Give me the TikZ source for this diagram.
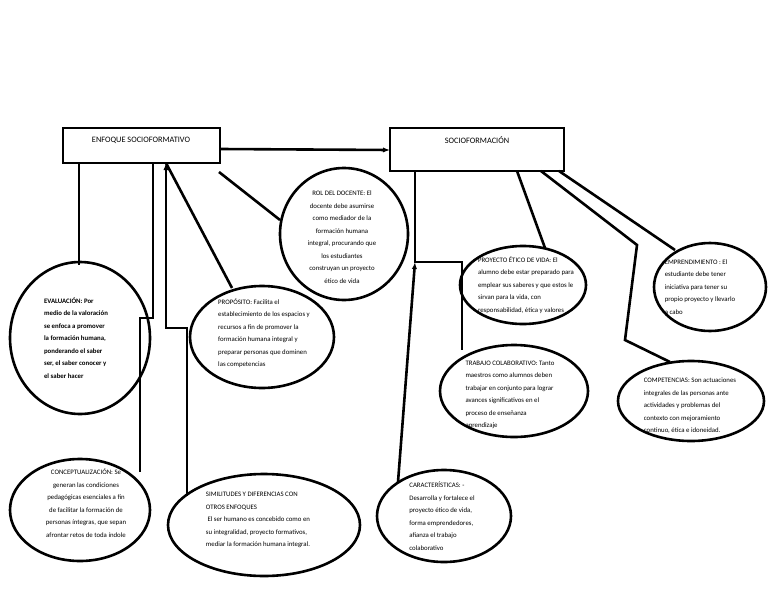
\documentclass[tikz,border=0pt]{standalone}
\usepackage{fontspec}
\setmainfont{Carlito}
\usetikzlibrary{shapes.geometric,arrows.meta}
\begin{document}
\begin{tikzpicture}[x=1pt,y=-1pt,
  ln/.style={line width=2.6pt},
  ell/.style={draw,ellipse,line width=2.6pt},
  txt/.style={font=\fontsize{6.8}{12.5}\selectfont,align=#1},
  txt/.default=center,
  box/.style={draw,line width=1.8pt}]
\useasboundingbox (0,0) rectangle (768,594);
% boxes
\draw[box] (63,128) rectangle (220,163);
\node[font=\fontsize{8.3}{9}\selectfont] (t1) at (141,140) {ENFOQUE SOCIOFORMATIVO};
\draw[box] (390,128) rectangle (564,171);
\node[font=\fontsize{8.3}{9}\selectfont] (t2) at (477,140) {SOCIOFORMACIÓN};
\coordinate (b1r) at (220,149); \coordinate (b2l) at (390,150);
\draw[ln,-{Latex[length=7pt]}] (b1r) -- (b2l);
% ellipses
\node[ell,minimum width=140pt,minimum height=152pt] (ev) at (80,338) {};
\node[txt=left,font=\bfseries\fontsize{6.8}{12.5}\selectfont] at (76,338) {EVALUACIÓN: Por\\medio de la valoración\\se enfoca a promover\\la formación humana,\\ponderando el saber\\ser, el saber conocer y\\el saber hacer};
\node[ell,minimum width=140pt,minimum height=102pt] (co) at (80,510) {};
\node[txt] at (86,503) {CONCEPTUALIZACIÓN: Se\\generan las condiciones\\pedagógicas esenciales a fin\\de facilitar la formación de\\personas íntegras, que sepan\\afrontar retos de toda índole};
\node[ell,minimum width=192pt,minimum height=102pt] (si) at (264,525) {};
\node[txt=left] at (258,520) {SIMILITUDES Y DIFERENCIAS CON\\OTROS ENFOQUES\\\ El ser humano es concebido como en\\su integralidad, proyecto formativos,\\mediar la formación humana integral.};
\node[ell,minimum width=144pt,minimum height=102pt] (pr) at (262,337) {};
\node[txt=left] at (264,333) {PROPÓSITO: Facilita el\\establecimiento de los espacios y\\recursos a fin de promover la\\formación humana integral y\\preparar personas que dominen\\las competencias};
\node[ell,minimum width=128pt,minimum height=132pt] (ro) at (344,234) {};
\node[txt] at (342,237) {ROL DEL DOCENTE: El\\docente debe asumirse\\como mediador de la\\formación humana\\integral, procurando que\\los estudiantes\\construyan un proyecto\\ético de vida};
\node[ell,minimum width=126pt,minimum height=78pt] (py) at (523,285) {};
\node[txt=left] at (526,285) {PROYECTO ÉTICO DE VIDA: El\\alumno debe estar preparado para\\emplear sus saberes y que estos le\\sirvan para la vida, con\\responsabilidad, ética y valores};
\node[ell,minimum width=112pt,minimum height=88pt] (em) at (710,287) {};
\node[txt=left] at (700,287) {EMPRENDIMIENTO : El\\estudiante debe tener\\iniciativa para tener su\\propio proyecto y llevarlo\\a cabo};
\node[ell,minimum width=146pt,minimum height=80pt] (cp) at (691,401) {};
\node[txt=left] at (690,406) {COMPETENCIAS: Son actuaciones\\integrales de las personas ante\\actividades y problemas del\\contexto  con mejoramiento\\continuo, ética e idoneidad.};
\node[ell,minimum width=148pt,minimum height=92pt] (tr) at (514,391) {};
\node[txt=left] at (510,395) {TRABAJO COLABORATIVO: Tanto\\maestros como alumnos deben\\trabajar en conjunto para lograr\\avances significativos en el\\proceso de enseñanza\\aprendizaje};
\node[ell,minimum width=134pt,minimum height=92pt] (ca) at (444,516) {};
\node[txt=left] at (442,516) {CARACTERÍSTICAS: -\\Desarrolla y fortalece el\\proyecto ético de vida,\\forma emprendedores,\\afianza el trabajo\\colaborativo};
% connectors
\coordinate (a1) at (79,163); \coordinate (a2) at (79,265);
\draw[ln] (a1) -- (a2);
\coordinate (c1) at (153,163); \coordinate (c2) at (140,472);
\draw[ln] (c1) -- (153,318) -- (140,318) -- (c2);
\coordinate (s1) at (166,163); \coordinate (s2) at (187,496);
\draw[ln,-{Latex[length=7pt]}] (s2) -- (187,328) -- (166,328) -- (s1);
\coordinate (p2) at (232,288);
\draw[ln] (s1) -- (p2);
\coordinate (r1) at (219,172); \coordinate (r2) at (280,220);
\draw[ln] (r1) -- (r2);
\coordinate (q1) at (415,171); \coordinate (q2) at (462,350);
\draw[ln] (q1) -- (415,262) -- (462,262) -- (q2);
\coordinate (k1) at (398,482); \coordinate (k2) at (415,262);
\draw[ln,-{Latex[length=7pt]}] (k1) -- (k2);
\coordinate (y1) at (517,171); \coordinate (y2) at (545,248);
\draw[ln] (y1) -- (y2);
\coordinate (m1) at (541,171); \coordinate (m2) at (670,362);
\draw[ln] (m1) -- (637,245) -- (625,340) -- (m2);
\coordinate (e1) at (559,171); \coordinate (e2) at (675,250);
\draw[ln] (e1) -- (e2);
\end{tikzpicture}
\end{document}
